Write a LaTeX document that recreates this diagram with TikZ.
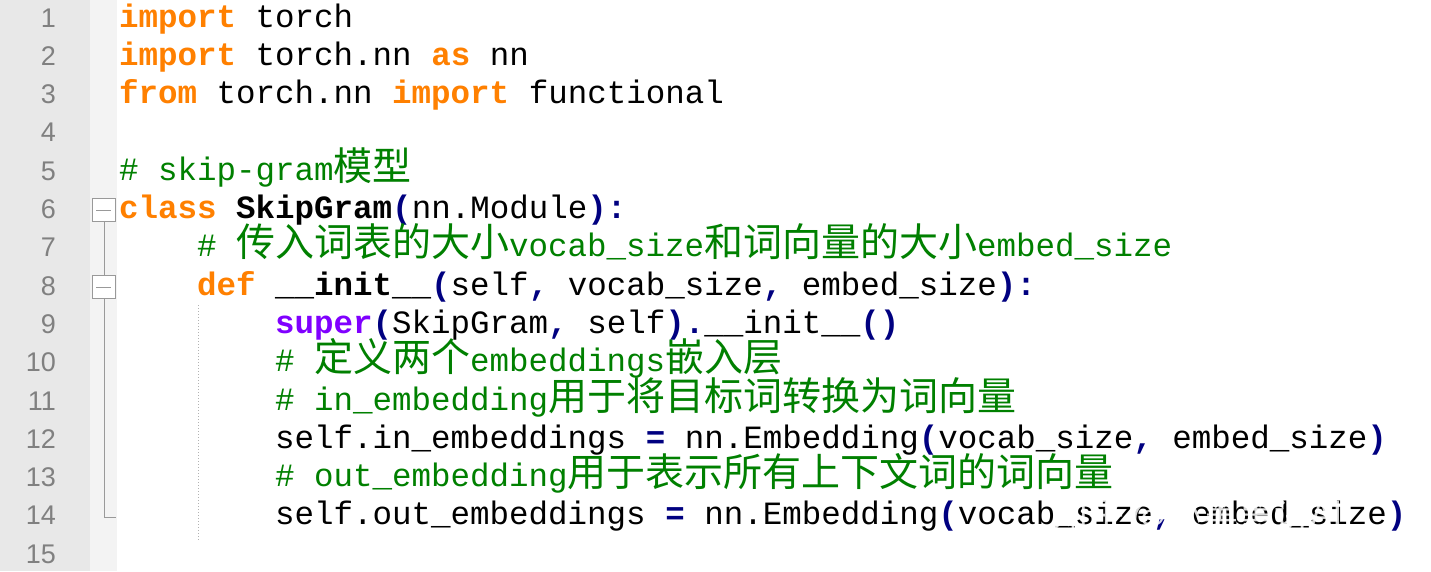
\documentclass[tikz,border=0pt]{standalone}
\usepackage{fontspec}
\setmonofont{Liberation Mono}
\newfontfamily\cjkf{Noto Sans CJK SC}[Scale=1.2]
\newfontfamily\numf{Liberation Sans}
\definecolor{kw}{HTML}{FF8000}
\definecolor{cm}{HTML}{008000}
\definecolor{op}{HTML}{000080}
\definecolor{pu}{HTML}{8000FF}
\definecolor{gut}{HTML}{E8E8E8}
\definecolor{fold}{HTML}{F3F3F3}
\newcommand{\K}[1]{\textcolor{kw}{\bfseries #1}}
\newcommand{\C}[1]{{\cjkf #1}}
\newcommand{\B}[1]{{\bfseries #1}}
\newcommand{\Op}[1]{\textcolor{op}{\bfseries #1}}
\begin{document}
\begin{tikzpicture}[x=1pt,y=-1pt,
  code/.style={anchor=base west,inner sep=0pt,font=\ttfamily\fontsize{32.5}{36}\selectfont},
  num/.style={anchor=base east,inner sep=0pt,text=gray,font=\numf\fontsize{27}{30}\selectfont},
  foldbox/.style={draw=gray!80,fill=white,line width=1pt,minimum width=23pt,minimum height=23pt,inner sep=0pt}]
\useasboundingbox (0,0) rectangle (1431,571);
\fill[white] (0,0) rectangle (1431,571);
\fill[gut] (0,0) rectangle (90,571);
\fill[fold] (90,0) rectangle (117,571);
\foreach \i in {1,...,15}{
  \node[num] (n\i) at (56,{27+(\i-1)*38.3}) {\i};
}
% fold markers
\node[foldbox] (f6) at (104,210) {};
\node[foldbox] (f8) at (104,287) {};
\coordinate (e14) at (104,517);
\coordinate (t14) at (116,517);
\draw[gray!80,line width=1pt] (f6.south) -- (f8.north);
\draw[gray!80,line width=1pt] (f8.south) -- (e14) -- (t14);
\draw[gray!80,line width=1pt] (f6.west) ++(4,0) -- ++(15,0);
\draw[gray!80,line width=1pt] (f8.west) ++(4,0) -- ++(15,0);
\coordinate (g1) at (198,305);
\coordinate (g2) at (198,540);
\draw[gray!60,dotted,line width=1pt] (g1) -- (g2);
% code
\def\ln#1{{27+(#1-1)*38.3}}
\node[code] (c1) at (119,\ln1) {\K{import} torch};
\node[code] (c2) at (119,\ln2) {\K{import} torch.nn \K{as} nn};
\node[code] (c3) at (119,\ln3) {\K{from} torch.nn \K{import} functional};
\node[code,text=cm] (c5) at (119,\ln5) {\# skip-gram\C{模型}};
\node[code] (c6) at (119,\ln6) {\K{class} \B{SkipGram}\Op{(}nn.Module\Op{):}};
\node[code,text=cm] (c7) at (197,\ln7) {\# \C{传入词表的大小}vocab\_size\C{和词向量的大小}embed\_size};
\node[code] (c8) at (197,\ln8) {\K{def} \B{\_\_init\_\_}\Op{(}self\Op{,} vocab\_size\Op{,} embed\_size\Op{):}};
\node[code] (c9) at (275,\ln9) {\textcolor{pu}{\bfseries super}\Op{(}SkipGram\Op{,} self\Op{).}\_\_init\_\_\Op{()}};
\node[code,text=cm] (c10) at (275,\ln{10}) {\# \C{定义两个}embeddings\C{嵌入层}};
\node[code,text=cm] (c11) at (275,\ln{11}) {\# in\_embedding\C{用于将目标词转换为词向量}};
\node[code] (c12) at (275,\ln{12}) {self.in\_embeddings \Op{=} nn.Embedding\Op{(}vocab\_size\Op{,} embed\_size\Op{)}};
\node[code,text=cm] (c13) at (275,\ln{13}) {\# out\_embedding\C{用于表示所有上下文词的词向量}};
\node[code] (c14) at (275,\ln{14}) {self.out\_embeddings \Op{=} nn.Embedding\Op{(}vocab\_size\Op{,} embed\_size\Op{)}};
\node[anchor=base west,inner sep=0pt,text=white,opacity=0.85,font=\cjkf\fontsize{30}{34}\selectfont] (wm) at (1052,527) {知乎 @小黑黑讲AI};
\end{tikzpicture}
\end{document}
